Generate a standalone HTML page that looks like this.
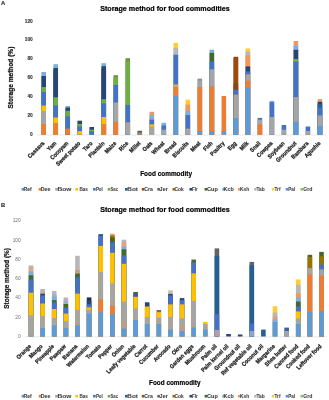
<!DOCTYPE html>
<html><head><meta charset="utf-8"><title>Storage method for food commodities</title>
<style>
html,body{margin:0;padding:0;background:#fff;}
body{width:329px;height:400px;overflow:hidden;}
svg{display:block;font-family:"Liberation Sans", sans-serif;}
.b{stroke:currentColor;stroke-width:0.25px;stroke-linejoin:round;}
</style></head>
<body>
<svg width="329" height="400" viewBox="0 0 329 400">
<defs><filter id="bl" x="-2%" y="-2%" width="104%" height="104%"><feGaussianBlur stdDeviation="0.4"/></filter></defs>
<rect width="329" height="400" fill="#fff"/>
<g filter="url(#bl)">
<text x="0.9" y="5.10" font-weight="bold" font-size="5.8" fill="#222" stroke="#222" stroke-width="0.12">A</text>
<text x="100.2" y="11.45" font-weight="bold" font-size="7.4" fill="#000" stroke="#000" stroke-width="0.22" textLength="129.6" lengthAdjust="spacingAndGlyphs">Storage method for food commodities</text>
<g font-size="4.75" font-weight="bold" fill="#333" stroke="#333" stroke-width="0.12"><text x="32.70" y="136.16" text-anchor="end">0</text>
<text x="32.70" y="117.22" text-anchor="end">20</text>
<text x="32.70" y="98.28" text-anchor="end">40</text>
<text x="32.70" y="79.34" text-anchor="end">60</text>
<text x="32.70" y="60.40" text-anchor="end">80</text>
<text x="32.70" y="41.46" text-anchor="end">100</text>
<text x="32.70" y="22.52" text-anchor="end">120</text></g>
<text x="0" y="0" font-weight="bold" font-size="6.8" fill="#111" stroke="#111" stroke-width="0.22" text-anchor="middle" textLength="62.0" lengthAdjust="spacingAndGlyphs" transform="translate(12.60 77.60) rotate(-90)">Storage method (%)</text>
<line x1="37.70" x2="325.94" y1="135.00" y2="135.00" stroke="#d9d9d9" stroke-width="0.6"/>
<rect x="41.40" y="72.00" width="4.60" height="62.70" fill="#7CAFDD"/>
<rect x="41.40" y="76.00" width="4.60" height="58.70" fill="#264478"/>
<rect x="41.40" y="87.00" width="4.60" height="47.70" fill="#70AD47"/>
<rect x="41.40" y="92.00" width="4.60" height="42.70" fill="#4472C4"/>
<rect x="41.40" y="105.50" width="4.60" height="29.20" fill="#FFC000"/>
<rect x="41.40" y="111.00" width="4.60" height="23.70" fill="#A5A5A5"/>
<rect x="41.40" y="124.00" width="4.60" height="10.70" fill="#ED7D31"/>
<rect x="53.41" y="64.20" width="4.60" height="70.50" fill="#7CAFDD"/>
<rect x="53.41" y="68.00" width="4.60" height="66.70" fill="#2c4c5c"/>
<rect x="53.41" y="70.00" width="4.60" height="64.70" fill="#264478"/>
<rect x="53.41" y="97.30" width="4.60" height="37.40" fill="#70AD47"/>
<rect x="53.41" y="105.50" width="4.60" height="29.20" fill="#4472C4"/>
<rect x="53.41" y="117.50" width="4.60" height="17.20" fill="#FFC000"/>
<rect x="53.41" y="123.00" width="4.60" height="11.70" fill="#ED7D31"/>
<rect x="65.42" y="106.00" width="4.60" height="28.70" fill="#7CAFDD"/>
<rect x="65.42" y="107.60" width="4.60" height="27.10" fill="#264478"/>
<rect x="65.42" y="110.80" width="4.60" height="23.90" fill="#70AD47"/>
<rect x="65.42" y="116.30" width="4.60" height="18.40" fill="#4472C4"/>
<rect x="65.42" y="128.60" width="4.60" height="6.10" fill="#ED7D31"/>
<rect x="77.43" y="120.70" width="4.60" height="14.00" fill="#264478"/>
<rect x="77.43" y="123.90" width="4.60" height="10.80" fill="#70AD47"/>
<rect x="77.43" y="126.50" width="4.60" height="8.20" fill="#4472C4"/>
<rect x="77.43" y="131.20" width="4.60" height="3.50" fill="#FFC000"/>
<rect x="89.44" y="127.00" width="4.60" height="7.70" fill="#264478"/>
<rect x="89.44" y="129.70" width="4.60" height="5.00" fill="#70AD47"/>
<rect x="89.44" y="131.20" width="4.60" height="3.50" fill="#4472C4"/>
<rect x="101.45" y="63.20" width="4.60" height="71.50" fill="#7CAFDD"/>
<rect x="101.45" y="66.20" width="4.60" height="68.50" fill="#2a4a5e"/>
<rect x="101.45" y="69.20" width="4.60" height="65.50" fill="#264478"/>
<rect x="101.45" y="99.20" width="4.60" height="35.50" fill="#70AD47"/>
<rect x="101.45" y="103.40" width="4.60" height="31.30" fill="#4472C4"/>
<rect x="101.45" y="117.00" width="4.60" height="17.70" fill="#FFC000"/>
<rect x="101.45" y="124.00" width="4.60" height="10.70" fill="#ED7D31"/>
<rect x="113.46" y="75.20" width="4.60" height="59.50" fill="#6b9444"/>
<rect x="113.46" y="77.20" width="4.60" height="57.50" fill="#70AD47"/>
<rect x="113.46" y="85.00" width="4.60" height="49.70" fill="#4472C4"/>
<rect x="113.46" y="102.40" width="4.60" height="32.30" fill="#A5A5A5"/>
<rect x="113.46" y="121.80" width="4.60" height="12.90" fill="#ED7D31"/>
<rect x="125.47" y="58.20" width="4.60" height="76.50" fill="#6b9444"/>
<rect x="125.47" y="61.50" width="4.60" height="73.20" fill="#70AD47"/>
<rect x="125.47" y="105.00" width="4.60" height="29.70" fill="#4472C4"/>
<rect x="125.47" y="122.30" width="4.60" height="12.40" fill="#A5A5A5"/>
<rect x="137.48" y="130.80" width="4.60" height="3.90" fill="#5e544a"/>
<rect x="137.48" y="132.50" width="4.60" height="2.20" fill="#9a8d80"/>
<rect x="149.49" y="111.80" width="4.60" height="22.90" fill="#F1975A"/>
<rect x="149.49" y="115.00" width="4.60" height="19.70" fill="#7CAFDD"/>
<rect x="149.49" y="119.70" width="4.60" height="15.00" fill="#4472C4"/>
<rect x="149.49" y="124.40" width="4.60" height="10.30" fill="#FFC000"/>
<rect x="149.49" y="126.50" width="4.60" height="8.20" fill="#A5A5A5"/>
<rect x="161.50" y="122.80" width="4.60" height="11.90" fill="#7CAFDD"/>
<rect x="161.50" y="125.50" width="4.60" height="9.20" fill="#4472C4"/>
<rect x="161.50" y="129.70" width="4.60" height="5.00" fill="#A5A5A5"/>
<rect x="173.51" y="42.80" width="4.60" height="91.90" fill="#FFCD33"/>
<rect x="173.51" y="47.90" width="4.60" height="86.80" fill="#B7B7B7"/>
<rect x="173.51" y="53.80" width="4.60" height="80.90" fill="#7CAFDD"/>
<rect x="173.51" y="55.00" width="4.60" height="79.70" fill="#4472C4"/>
<rect x="173.51" y="84.30" width="4.60" height="50.40" fill="#c8b060"/>
<rect x="173.51" y="87.10" width="4.60" height="47.60" fill="#ED7D31"/>
<rect x="173.51" y="96.00" width="4.60" height="38.70" fill="#5B9BD5"/>
<rect x="185.52" y="99.70" width="4.60" height="35.00" fill="#FFCD33"/>
<rect x="185.52" y="104.50" width="4.60" height="30.20" fill="#F1975A"/>
<rect x="185.52" y="110.80" width="4.60" height="23.90" fill="#7CAFDD"/>
<rect x="185.52" y="115.00" width="4.60" height="19.70" fill="#4472C4"/>
<rect x="185.52" y="128.60" width="4.60" height="6.10" fill="#A5A5A5"/>
<rect x="197.53" y="78.60" width="4.60" height="56.10" fill="#8a94a0"/>
<rect x="197.53" y="80.70" width="4.60" height="54.00" fill="#A5A5A5"/>
<rect x="197.53" y="87.10" width="4.60" height="47.60" fill="#ED7D31"/>
<rect x="197.53" y="131.00" width="4.60" height="3.70" fill="#5B9BD5"/>
<rect x="209.54" y="49.70" width="4.60" height="85.00" fill="#7CAFDD"/>
<rect x="209.54" y="52.90" width="4.60" height="81.80" fill="#43682B"/>
<rect x="209.54" y="61.40" width="4.60" height="73.30" fill="#4472C4"/>
<rect x="209.54" y="69.30" width="4.60" height="65.40" fill="#A5A5A5"/>
<rect x="209.54" y="86.40" width="4.60" height="48.30" fill="#ED7D31"/>
<rect x="209.54" y="131.00" width="4.60" height="3.70" fill="#5B9BD5"/>
<rect x="221.55" y="96.00" width="4.60" height="38.70" fill="#ED7D31"/>
<rect x="221.55" y="131.00" width="4.60" height="3.70" fill="#5B9BD5"/>
<rect x="233.56" y="56.80" width="4.60" height="77.90" fill="#8a4010"/>
<rect x="233.56" y="58.00" width="4.60" height="76.70" fill="#9E480E"/>
<rect x="233.56" y="83.50" width="4.60" height="51.20" fill="#8a4512"/>
<rect x="233.56" y="89.80" width="4.60" height="44.90" fill="#4472C4"/>
<rect x="233.56" y="94.60" width="4.60" height="40.10" fill="#A5A5A5"/>
<rect x="233.56" y="118.10" width="4.60" height="16.60" fill="#5B9BD5"/>
<rect x="245.57" y="48.40" width="4.60" height="86.30" fill="#FFCD33"/>
<rect x="245.57" y="51.60" width="4.60" height="83.10" fill="#B7B7B7"/>
<rect x="245.57" y="55.30" width="4.60" height="79.40" fill="#F1975A"/>
<rect x="245.57" y="66.40" width="4.60" height="68.30" fill="#264478"/>
<rect x="245.57" y="71.40" width="4.60" height="63.30" fill="#4472C4"/>
<rect x="245.57" y="74.30" width="4.60" height="60.40" fill="#A5A5A5"/>
<rect x="245.57" y="80.70" width="4.60" height="54.00" fill="#ED7D31"/>
<rect x="245.57" y="87.90" width="4.60" height="46.80" fill="#5B9BD5"/>
<rect x="257.58" y="117.90" width="4.60" height="16.80" fill="#4472C4"/>
<rect x="257.58" y="119.70" width="4.60" height="15.00" fill="#A5A5A5"/>
<rect x="257.58" y="124.40" width="4.60" height="10.30" fill="#ED7D31"/>
<rect x="269.59" y="101.10" width="4.60" height="33.60" fill="#6d94d0"/>
<rect x="269.59" y="102.40" width="4.60" height="32.30" fill="#4472C4"/>
<rect x="269.59" y="117.00" width="4.60" height="17.70" fill="#A5A5A5"/>
<rect x="281.60" y="125.00" width="4.60" height="9.70" fill="#4472C4"/>
<rect x="281.60" y="129.70" width="4.60" height="5.00" fill="#A5A5A5"/>
<rect x="293.61" y="41.00" width="4.60" height="93.70" fill="#F1975A"/>
<rect x="293.61" y="45.40" width="4.60" height="89.30" fill="#7CAFDD"/>
<rect x="293.61" y="49.80" width="4.60" height="84.90" fill="#264478"/>
<rect x="293.61" y="59.00" width="4.60" height="75.70" fill="#70AD47"/>
<rect x="293.61" y="61.60" width="4.60" height="73.10" fill="#4472C4"/>
<rect x="293.61" y="97.10" width="4.60" height="37.60" fill="#A5A5A5"/>
<rect x="293.61" y="121.80" width="4.60" height="12.90" fill="#5B9BD5"/>
<rect x="305.62" y="126.50" width="4.60" height="8.20" fill="#4472C4"/>
<rect x="305.62" y="131.00" width="4.60" height="3.70" fill="#A5A5A5"/>
<rect x="317.63" y="99.20" width="4.60" height="35.50" fill="#F1975A"/>
<rect x="317.63" y="101.80" width="4.60" height="32.90" fill="#264478"/>
<rect x="317.63" y="103.90" width="4.60" height="30.80" fill="#255E91"/>
<rect x="317.63" y="107.60" width="4.60" height="27.10" fill="#4472C4"/>
<rect x="317.63" y="115.50" width="4.60" height="19.20" fill="#A5A5A5"/>
<rect x="317.63" y="126.00" width="4.60" height="8.70" fill="#5B9BD5"/>
<g font-size="5.9" font-weight="bold" fill="#1a1a1a" stroke="#1a1a1a" stroke-width="0.26"><text x="0" y="0" text-anchor="end" transform="translate(44.80 143.80) rotate(-45) scale(0.870 1)">Cassava</text>
<text x="0" y="0" text-anchor="end" transform="translate(56.81 143.80) rotate(-45) scale(0.870 1)">Yam</text>
<text x="0" y="0" text-anchor="end" transform="translate(68.82 143.80) rotate(-45) scale(0.870 1)">Cocoyam</text>
<text x="0" y="0" text-anchor="end" transform="translate(80.83 143.80) rotate(-45) scale(0.870 1)">Sweet potato</text>
<text x="0" y="0" text-anchor="end" transform="translate(92.84 143.80) rotate(-45) scale(0.870 1)">Taro</text>
<text x="0" y="0" text-anchor="end" transform="translate(104.85 143.80) rotate(-45) scale(0.870 1)">Plantain</text>
<text x="0" y="0" text-anchor="end" transform="translate(116.86 143.80) rotate(-45) scale(0.870 1)">Maize</text>
<text x="0" y="0" text-anchor="end" transform="translate(128.87 143.80) rotate(-45) scale(0.870 1)">Rice</text>
<text x="0" y="0" text-anchor="end" transform="translate(140.88 143.80) rotate(-45) scale(0.870 1)">Millet</text>
<text x="0" y="0" text-anchor="end" transform="translate(152.89 143.80) rotate(-45) scale(0.870 1)">Oats</text>
<text x="0" y="0" text-anchor="end" transform="translate(164.90 143.80) rotate(-45) scale(0.870 1)">Wheat</text>
<text x="0" y="0" text-anchor="end" transform="translate(176.91 143.80) rotate(-45) scale(0.870 1)">Bread</text>
<text x="0" y="0" text-anchor="end" transform="translate(188.92 143.80) rotate(-45) scale(0.870 1)">Biscuits</text>
<text x="0" y="0" text-anchor="end" transform="translate(200.93 143.80) rotate(-45) scale(0.870 1)">Meat</text>
<text x="0" y="0" text-anchor="end" transform="translate(212.94 143.80) rotate(-45) scale(0.870 1)">Fish</text>
<text x="0" y="0" text-anchor="end" transform="translate(224.95 143.80) rotate(-45) scale(0.870 1)">Poultry</text>
<text x="0" y="0" text-anchor="end" transform="translate(236.96 143.80) rotate(-45) scale(0.870 1)">Egg</text>
<text x="0" y="0" text-anchor="end" transform="translate(248.97 143.80) rotate(-45) scale(0.870 1)">Milk</text>
<text x="0" y="0" text-anchor="end" transform="translate(260.98 143.80) rotate(-45) scale(0.870 1)">Snail</text>
<text x="0" y="0" text-anchor="end" transform="translate(272.99 143.80) rotate(-45) scale(0.870 1)">Cowpea</text>
<text x="0" y="0" text-anchor="end" transform="translate(285.00 143.80) rotate(-45) scale(0.870 1)">Soybean</text>
<text x="0" y="0" text-anchor="end" transform="translate(297.01 143.80) rotate(-45) scale(0.870 1)">Groundnut</text>
<text x="0" y="0" text-anchor="end" transform="translate(309.02 143.80) rotate(-45) scale(0.870 1)">Bambara</text>
<text x="0" y="0" text-anchor="end" transform="translate(321.03 143.80) rotate(-45) scale(0.870 1)">Agushie</text></g>
<text x="140.20" y="176.10" font-weight="bold" font-size="6.6" fill="#000" stroke="#000" stroke-width="0.18" textLength="51.80" lengthAdjust="spacingAndGlyphs">Food commodity</text>
<g font-size="4.6" font-weight="bold" fill="#404040" stroke="#404040" stroke-width="0.06"><rect x="21.60" y="188.00" width="2.6" height="2.6" fill="#5B9BD5" stroke="none"/>
<text x="23.50" y="190.90" textLength="8.20" lengthAdjust="spacingAndGlyphs">Ref</text>
<rect x="38.70" y="188.00" width="2.6" height="2.6" fill="#ED7D31" stroke="none"/>
<text x="40.80" y="190.90" textLength="9.70" lengthAdjust="spacingAndGlyphs">Dee</text>
<rect x="55.20" y="188.00" width="2.6" height="2.6" fill="#A5A5A5" stroke="none"/>
<text x="57.40" y="190.90" textLength="13.90" lengthAdjust="spacingAndGlyphs">Bow</text>
<rect x="75.40" y="188.00" width="2.6" height="2.6" fill="#FFC000" stroke="none"/>
<text x="79.50" y="190.90" textLength="8.40" lengthAdjust="spacingAndGlyphs">Bas</text>
<rect x="93.10" y="188.00" width="2.6" height="2.6" fill="#4472C4" stroke="none"/>
<text x="95.90" y="190.90" textLength="6.90" lengthAdjust="spacingAndGlyphs">Pol</text>
<rect x="107.70" y="188.00" width="2.6" height="2.6" fill="#70AD47" stroke="none"/>
<text x="110.50" y="190.90" textLength="7.50" lengthAdjust="spacingAndGlyphs">Sac</text>
<rect x="125.00" y="188.00" width="2.6" height="2.6" fill="#255E91" stroke="none"/>
<text x="127.30" y="190.90" textLength="10.60" lengthAdjust="spacingAndGlyphs">Bot</text>
<rect x="141.80" y="188.00" width="2.6" height="2.6" fill="#9E480E" stroke="none"/>
<text x="144.30" y="190.90" textLength="8.50" lengthAdjust="spacingAndGlyphs">Cra</text>
<rect x="157.30" y="188.00" width="2.6" height="2.6" fill="#636363" stroke="none"/>
<text x="159.60" y="190.90" textLength="8.20" lengthAdjust="spacingAndGlyphs">Jer</text>
<rect x="172.50" y="188.00" width="2.6" height="2.6" fill="#997300" stroke="none"/>
<text x="174.60" y="190.90" textLength="9.10" lengthAdjust="spacingAndGlyphs">Cok</text>
<rect x="189.50" y="188.00" width="2.6" height="2.6" fill="#264478" stroke="none"/>
<text x="191.90" y="190.90" textLength="5.80" lengthAdjust="spacingAndGlyphs">Flr</text>
<rect x="204.60" y="188.00" width="2.6" height="2.6" fill="#43682B" stroke="none"/>
<text x="207.00" y="190.90" textLength="10.80" lengthAdjust="spacingAndGlyphs">Cup</text>
<rect x="222.30" y="188.00" width="2.6" height="2.6" fill="#7CAFDD" stroke="none"/>
<text x="223.60" y="190.90" textLength="10.10" lengthAdjust="spacingAndGlyphs">Kcb</text>
<rect x="238.00" y="188.00" width="2.6" height="2.6" fill="#F1975A" stroke="none"/>
<text x="240.00" y="190.90" textLength="9.20" lengthAdjust="spacingAndGlyphs">Ksh</text>
<rect x="254.10" y="188.00" width="2.6" height="2.6" fill="#B7B7B7" stroke="none"/>
<text x="256.50" y="190.90" textLength="8.20" lengthAdjust="spacingAndGlyphs">Tab</text>
<rect x="271.80" y="188.00" width="2.6" height="2.6" fill="#FFCD33" stroke="none"/>
<text x="274.50" y="190.90" textLength="6.00" lengthAdjust="spacingAndGlyphs">Trf</text>
<rect x="285.70" y="188.00" width="2.6" height="2.6" fill="#698ED0" stroke="none"/>
<text x="288.20" y="190.90" textLength="6.90" lengthAdjust="spacingAndGlyphs">Pal</text>
<rect x="300.50" y="188.00" width="2.6" height="2.6" fill="#8CC168" stroke="none"/>
<text x="303.30" y="190.90" textLength="9.10" lengthAdjust="spacingAndGlyphs">Grd</text></g>
<text x="0.9" y="206.70" font-weight="bold" font-size="5.8" fill="#222" stroke="#222" stroke-width="0.12">B</text>
<text x="100.2" y="211.65" font-weight="bold" font-size="7.4" fill="#000" stroke="#000" stroke-width="0.22" textLength="129.6" lengthAdjust="spacingAndGlyphs">Storage method for food commodities</text>
<g font-size="4.75" fill="#707070"><text x="20.60" y="337.96" text-anchor="end">0</text>
<text x="20.60" y="318.71" text-anchor="end">20</text>
<text x="20.60" y="299.46" text-anchor="end">40</text>
<text x="20.60" y="280.21" text-anchor="end">60</text>
<text x="20.60" y="260.96" text-anchor="end">80</text>
<text x="20.60" y="241.71" text-anchor="end">100</text>
<text x="20.60" y="222.46" text-anchor="end">120</text></g>
<text x="0" y="0" font-weight="bold" font-size="6.8" fill="#111" stroke="#111" stroke-width="0.22" text-anchor="middle" textLength="60.5" lengthAdjust="spacingAndGlyphs" transform="translate(8.60 278.40) rotate(-90)">Storage method (%)</text>
<line x1="25.19" x2="327.31" y1="336.80" y2="336.80" stroke="#d9d9d9" stroke-width="0.6"/>
<rect x="28.70" y="265.40" width="4.60" height="71.10" fill="#B7B7B7"/>
<rect x="28.70" y="267.00" width="4.60" height="69.50" fill="#d8a890"/>
<rect x="28.70" y="271.50" width="4.60" height="65.00" fill="#7CAFDD"/>
<rect x="28.70" y="275.30" width="4.60" height="61.20" fill="#43682B"/>
<rect x="28.70" y="279.50" width="4.60" height="57.00" fill="#4472C4"/>
<rect x="28.70" y="292.70" width="4.60" height="43.80" fill="#FFC000"/>
<rect x="28.70" y="315.40" width="4.60" height="21.10" fill="#A5A5A5"/>
<rect x="28.70" y="334.80" width="4.60" height="1.70" fill="#8ea4b8"/>
<rect x="40.32" y="289.00" width="4.60" height="47.50" fill="#B7B7B7"/>
<rect x="40.32" y="291.00" width="4.60" height="45.50" fill="#c8aca4"/>
<rect x="40.32" y="293.70" width="4.60" height="42.80" fill="#264478"/>
<rect x="40.32" y="295.40" width="4.60" height="41.10" fill="#4472C4"/>
<rect x="40.32" y="303.50" width="4.60" height="33.00" fill="#FFC000"/>
<rect x="40.32" y="316.00" width="4.60" height="20.50" fill="#A5A5A5"/>
<rect x="40.32" y="328.00" width="4.60" height="8.50" fill="#5B9BD5"/>
<rect x="51.94" y="290.90" width="4.60" height="45.60" fill="#B7B7B7"/>
<rect x="51.94" y="294.50" width="4.60" height="42.00" fill="#a8acc8"/>
<rect x="51.94" y="296.30" width="4.60" height="40.20" fill="#7CAFDD"/>
<rect x="51.94" y="300.20" width="4.60" height="36.30" fill="#43682B"/>
<rect x="51.94" y="302.40" width="4.60" height="34.10" fill="#4472C4"/>
<rect x="51.94" y="309.00" width="4.60" height="27.50" fill="#FFC000"/>
<rect x="51.94" y="318.00" width="4.60" height="18.50" fill="#A5A5A5"/>
<rect x="51.94" y="325.50" width="4.60" height="11.00" fill="#5B9BD5"/>
<rect x="63.56" y="297.50" width="4.60" height="39.00" fill="#B7B7B7"/>
<rect x="63.56" y="300.50" width="4.60" height="36.00" fill="#a8acc8"/>
<rect x="63.56" y="304.00" width="4.60" height="32.50" fill="#43682B"/>
<rect x="63.56" y="307.60" width="4.60" height="28.90" fill="#4472C4"/>
<rect x="63.56" y="313.60" width="4.60" height="22.90" fill="#FFC000"/>
<rect x="63.56" y="321.10" width="4.60" height="15.40" fill="#A5A5A5"/>
<rect x="63.56" y="328.00" width="4.60" height="8.50" fill="#5B9BD5"/>
<rect x="75.18" y="255.80" width="4.60" height="80.70" fill="#B7B7B7"/>
<rect x="75.18" y="270.00" width="4.60" height="66.50" fill="#c8a088"/>
<rect x="75.18" y="273.60" width="4.60" height="62.90" fill="#43682B"/>
<rect x="75.18" y="277.30" width="4.60" height="59.20" fill="#4472C4"/>
<rect x="75.18" y="293.60" width="4.60" height="42.90" fill="#FFC000"/>
<rect x="75.18" y="309.90" width="4.60" height="26.60" fill="#A5A5A5"/>
<rect x="75.18" y="322.60" width="4.60" height="13.90" fill="#b89a90"/>
<rect x="75.18" y="325.50" width="4.60" height="11.00" fill="#5B9BD5"/>
<rect x="86.80" y="297.40" width="4.60" height="39.10" fill="#1e3050"/>
<rect x="86.80" y="300.50" width="4.60" height="36.00" fill="#264478"/>
<rect x="86.80" y="304.30" width="4.60" height="32.20" fill="#4472C4"/>
<rect x="86.80" y="307.40" width="4.60" height="29.10" fill="#FFC000"/>
<rect x="86.80" y="309.90" width="4.60" height="26.60" fill="#A5A5A5"/>
<rect x="86.80" y="313.60" width="4.60" height="22.90" fill="#5B9BD5"/>
<rect x="98.42" y="234.20" width="4.60" height="102.30" fill="#264478"/>
<rect x="98.42" y="235.60" width="4.60" height="100.90" fill="#4472C4"/>
<rect x="98.42" y="245.90" width="4.60" height="90.60" fill="#FFC000"/>
<rect x="98.42" y="272.00" width="4.60" height="64.50" fill="#A5A5A5"/>
<rect x="98.42" y="299.50" width="4.60" height="37.00" fill="#ED7D31"/>
<rect x="98.42" y="312.10" width="4.60" height="24.40" fill="#5B9BD5"/>
<rect x="110.04" y="233.80" width="4.60" height="102.70" fill="#F1975A"/>
<rect x="110.04" y="235.60" width="4.60" height="100.90" fill="#997300"/>
<rect x="110.04" y="237.60" width="4.60" height="98.90" fill="#43682B"/>
<rect x="110.04" y="242.40" width="4.60" height="94.10" fill="#4472C4"/>
<rect x="110.04" y="252.80" width="4.60" height="83.70" fill="#FFC000"/>
<rect x="110.04" y="283.40" width="4.60" height="53.10" fill="#A5A5A5"/>
<rect x="110.04" y="305.80" width="4.60" height="30.70" fill="#ED7D31"/>
<rect x="110.04" y="314.20" width="4.60" height="22.30" fill="#5B9BD5"/>
<rect x="121.66" y="239.70" width="4.60" height="96.80" fill="#B7B7B7"/>
<rect x="121.66" y="242.00" width="4.60" height="94.50" fill="#e4a384"/>
<rect x="121.66" y="246.60" width="4.60" height="89.90" fill="#7CAFDD"/>
<rect x="121.66" y="249.30" width="4.60" height="87.20" fill="#43682B"/>
<rect x="121.66" y="255.50" width="4.60" height="81.00" fill="#4472C4"/>
<rect x="121.66" y="263.80" width="4.60" height="72.70" fill="#FFC000"/>
<rect x="121.66" y="301.60" width="4.60" height="34.90" fill="#A5A5A5"/>
<rect x="121.66" y="322.00" width="4.60" height="14.50" fill="#c09a8c"/>
<rect x="121.66" y="328.50" width="4.60" height="8.00" fill="#5B9BD5"/>
<rect x="133.28" y="292.00" width="4.60" height="44.50" fill="#43682B"/>
<rect x="133.28" y="293.60" width="4.60" height="42.90" fill="#3a5aa8"/>
<rect x="133.28" y="296.80" width="4.60" height="39.70" fill="#FFC000"/>
<rect x="133.28" y="308.40" width="4.60" height="28.10" fill="#A5A5A5"/>
<rect x="133.28" y="320.00" width="4.60" height="16.50" fill="#5B9BD5"/>
<rect x="144.90" y="302.30" width="4.60" height="34.20" fill="#264478"/>
<rect x="144.90" y="306.50" width="4.60" height="30.00" fill="#FFC000"/>
<rect x="144.90" y="317.00" width="4.60" height="19.50" fill="#A5A5A5"/>
<rect x="144.90" y="324.00" width="4.60" height="12.50" fill="#5B9BD5"/>
<rect x="156.52" y="310.00" width="4.60" height="26.50" fill="#7a6a6a"/>
<rect x="156.52" y="312.10" width="4.60" height="24.40" fill="#FFC000"/>
<rect x="156.52" y="317.70" width="4.60" height="18.80" fill="#A5A5A5"/>
<rect x="156.52" y="324.00" width="4.60" height="12.50" fill="#5B9BD5"/>
<rect x="168.14" y="290.40" width="4.60" height="46.10" fill="#c8c0a8"/>
<rect x="168.14" y="293.90" width="4.60" height="42.60" fill="#264478"/>
<rect x="168.14" y="295.30" width="4.60" height="41.20" fill="#4472C4"/>
<rect x="168.14" y="304.40" width="4.60" height="32.10" fill="#FFC000"/>
<rect x="168.14" y="317.00" width="4.60" height="19.50" fill="#A5A5A5"/>
<rect x="168.14" y="329.60" width="4.60" height="6.90" fill="#5B9BD5"/>
<rect x="179.76" y="298.10" width="4.60" height="38.40" fill="#264478"/>
<rect x="179.76" y="300.20" width="4.60" height="36.30" fill="#4472C4"/>
<rect x="179.76" y="304.40" width="4.60" height="32.10" fill="#FFC000"/>
<rect x="179.76" y="318.40" width="4.60" height="18.10" fill="#A5A5A5"/>
<rect x="179.76" y="326.80" width="4.60" height="9.70" fill="#c4988a"/>
<rect x="179.76" y="331.00" width="4.60" height="5.50" fill="#5B9BD5"/>
<rect x="191.38" y="259.60" width="4.60" height="76.90" fill="#43682B"/>
<rect x="191.38" y="262.40" width="4.60" height="74.10" fill="#4472C4"/>
<rect x="191.38" y="273.40" width="4.60" height="63.10" fill="#FFC000"/>
<rect x="191.38" y="300.90" width="4.60" height="35.60" fill="#A5A5A5"/>
<rect x="191.38" y="327.50" width="4.60" height="9.00" fill="#5B9BD5"/>
<rect x="203.00" y="321.90" width="4.60" height="14.60" fill="#FFC000"/>
<rect x="203.00" y="324.00" width="4.60" height="12.50" fill="#A5A5A5"/>
<rect x="203.00" y="329.60" width="4.60" height="6.90" fill="#5B9BD5"/>
<rect x="214.62" y="248.40" width="4.60" height="88.10" fill="#636363"/>
<rect x="214.62" y="255.80" width="4.60" height="80.70" fill="#255E91"/>
<rect x="214.62" y="314.20" width="4.60" height="22.30" fill="#4472C4"/>
<rect x="214.62" y="330.00" width="4.60" height="6.50" fill="#b0a0a0"/>
<rect x="226.24" y="334.00" width="4.60" height="2.50" fill="#264478"/>
<rect x="237.86" y="334.50" width="4.60" height="2.00" fill="#3a3f50"/>
<rect x="249.48" y="261.90" width="4.60" height="74.60" fill="#636363"/>
<rect x="249.48" y="265.30" width="4.60" height="71.20" fill="#255E91"/>
<rect x="249.48" y="323.50" width="4.60" height="13.00" fill="#4472C4"/>
<rect x="249.48" y="331.00" width="4.60" height="5.50" fill="#8fa8c0"/>
<rect x="261.10" y="329.60" width="4.60" height="6.90" fill="#255E91"/>
<rect x="272.72" y="306.20" width="4.60" height="30.30" fill="#FFCD33"/>
<rect x="272.72" y="312.60" width="4.60" height="23.90" fill="#B7B7B7"/>
<rect x="272.72" y="316.50" width="4.60" height="20.00" fill="#d8a088"/>
<rect x="272.72" y="319.50" width="4.60" height="17.00" fill="#7CAFDD"/>
<rect x="272.72" y="322.00" width="4.60" height="14.50" fill="#5B9BD5"/>
<rect x="284.34" y="327.60" width="4.60" height="8.90" fill="#3a5ea8"/>
<rect x="284.34" y="331.00" width="4.60" height="5.50" fill="#A5A5A5"/>
<rect x="295.96" y="279.40" width="4.60" height="57.10" fill="#FFCD33"/>
<rect x="295.96" y="284.80" width="4.60" height="51.70" fill="#B7B7B7"/>
<rect x="295.96" y="293.20" width="4.60" height="43.30" fill="#F1975A"/>
<rect x="295.96" y="297.40" width="4.60" height="39.10" fill="#7CAFDD"/>
<rect x="295.96" y="301.60" width="4.60" height="34.90" fill="#43682B"/>
<rect x="295.96" y="306.50" width="4.60" height="30.00" fill="#4472C4"/>
<rect x="295.96" y="311.40" width="4.60" height="25.10" fill="#FFC000"/>
<rect x="295.96" y="318.40" width="4.60" height="18.10" fill="#A5A5A5"/>
<rect x="295.96" y="324.00" width="4.60" height="12.50" fill="#5B9BD5"/>
<rect x="307.58" y="254.80" width="4.60" height="81.70" fill="#43682B"/>
<rect x="307.58" y="256.90" width="4.60" height="79.60" fill="#997300"/>
<rect x="307.58" y="268.10" width="4.60" height="68.40" fill="#A5A5A5"/>
<rect x="307.58" y="274.40" width="4.60" height="62.10" fill="#ED7D31"/>
<rect x="307.58" y="311.80" width="4.60" height="24.70" fill="#5B9BD5"/>
<rect x="319.20" y="251.90" width="4.60" height="84.60" fill="#43682B"/>
<rect x="319.20" y="256.30" width="4.60" height="80.20" fill="#997300"/>
<rect x="319.20" y="264.40" width="4.60" height="72.10" fill="#4472C4"/>
<rect x="319.20" y="269.40" width="4.60" height="67.10" fill="#A5A5A5"/>
<rect x="319.20" y="275.60" width="4.60" height="60.90" fill="#ED7D31"/>
<rect x="319.20" y="311.10" width="4.60" height="25.40" fill="#5B9BD5"/>
<g font-size="5.9" font-weight="bold" fill="#1a1a1a" stroke="#1a1a1a" stroke-width="0.26"><text x="0" y="0" text-anchor="end" transform="translate(31.40 346.80) rotate(-45) scale(0.870 1)">Orange</text>
<text x="0" y="0" text-anchor="end" transform="translate(43.02 346.80) rotate(-45) scale(0.870 1)">Mango</text>
<text x="0" y="0" text-anchor="end" transform="translate(54.64 346.80) rotate(-45) scale(0.870 1)">Pineapple</text>
<text x="0" y="0" text-anchor="end" transform="translate(66.26 346.80) rotate(-45) scale(0.870 1)">Pawpaw</text>
<text x="0" y="0" text-anchor="end" transform="translate(77.88 346.80) rotate(-45) scale(0.870 1)">Banana</text>
<text x="0" y="0" text-anchor="end" transform="translate(89.50 346.80) rotate(-45) scale(0.870 1)">Watermelon</text>
<text x="0" y="0" text-anchor="end" transform="translate(101.12 346.80) rotate(-45) scale(0.870 1)">Tomato</text>
<text x="0" y="0" text-anchor="end" transform="translate(112.74 346.80) rotate(-45) scale(0.870 1)">Pepper</text>
<text x="0" y="0" text-anchor="end" transform="translate(124.36 346.80) rotate(-45) scale(0.870 1)">Onion</text>
<text x="0" y="0" text-anchor="end" transform="translate(135.98 346.80) rotate(-45) scale(0.870 1)">Leafy vegetable</text>
<text x="0" y="0" text-anchor="end" transform="translate(147.60 346.80) rotate(-45) scale(0.870 1)">Carrot</text>
<text x="0" y="0" text-anchor="end" transform="translate(159.22 346.80) rotate(-45) scale(0.870 1)">Cucumber</text>
<text x="0" y="0" text-anchor="end" transform="translate(170.84 346.80) rotate(-45) scale(0.870 1)">Avocado</text>
<text x="0" y="0" text-anchor="end" transform="translate(182.46 346.80) rotate(-45) scale(0.870 1)">Okro</text>
<text x="0" y="0" text-anchor="end" transform="translate(194.08 346.80) rotate(-45) scale(0.870 1)">Garden eggs</text>
<text x="0" y="0" text-anchor="end" transform="translate(205.70 346.80) rotate(-45) scale(0.870 1)">Mushroom</text>
<text x="0" y="0" text-anchor="end" transform="translate(217.32 346.80) rotate(-45) scale(0.870 1)">Palm oil</text>
<text x="0" y="0" text-anchor="end" transform="translate(228.94 346.80) rotate(-45) scale(0.870 1)">Palm kernel oil</text>
<text x="0" y="0" text-anchor="end" transform="translate(240.56 346.80) rotate(-45) scale(0.870 1)">Groundnut oil</text>
<text x="0" y="0" text-anchor="end" transform="translate(252.18 346.80) rotate(-45) scale(0.870 1)">Ref vegetable oil</text>
<text x="0" y="0" text-anchor="end" transform="translate(263.80 346.80) rotate(-45) scale(0.870 1)">Coconut oil</text>
<text x="0" y="0" text-anchor="end" transform="translate(275.42 346.80) rotate(-45) scale(0.870 1)">Margarine</text>
<text x="0" y="0" text-anchor="end" transform="translate(287.04 346.80) rotate(-45) scale(0.870 1)">Shea butter</text>
<text x="0" y="0" text-anchor="end" transform="translate(298.66 346.80) rotate(-45) scale(0.870 1)">Canned food</text>
<text x="0" y="0" text-anchor="end" transform="translate(310.28 346.80) rotate(-45) scale(0.870 1)">Cooked food</text>
<text x="0" y="0" text-anchor="end" transform="translate(321.90 346.80) rotate(-45) scale(0.870 1)">Leftover food</text></g>
<text x="149.00" y="384.90" font-weight="bold" font-size="6.6" fill="#000" stroke="#000" stroke-width="0.18" textLength="51.50" lengthAdjust="spacingAndGlyphs">Food commodity</text>
<g font-size="4.6" font-weight="bold" fill="#404040" stroke="#404040" stroke-width="0.06"><rect x="21.60" y="394.90" width="2.6" height="2.6" fill="#5B9BD5" stroke="none"/>
<text x="23.50" y="397.80" textLength="8.20" lengthAdjust="spacingAndGlyphs">Ref</text>
<rect x="38.70" y="394.90" width="2.6" height="2.6" fill="#ED7D31" stroke="none"/>
<text x="40.80" y="397.80" textLength="9.70" lengthAdjust="spacingAndGlyphs">Dee</text>
<rect x="55.20" y="394.90" width="2.6" height="2.6" fill="#A5A5A5" stroke="none"/>
<text x="57.40" y="397.80" textLength="13.90" lengthAdjust="spacingAndGlyphs">Bow</text>
<rect x="75.40" y="394.90" width="2.6" height="2.6" fill="#FFC000" stroke="none"/>
<text x="79.50" y="397.80" textLength="8.40" lengthAdjust="spacingAndGlyphs">Bas</text>
<rect x="93.10" y="394.90" width="2.6" height="2.6" fill="#4472C4" stroke="none"/>
<text x="95.90" y="397.80" textLength="6.90" lengthAdjust="spacingAndGlyphs">Pol</text>
<rect x="107.70" y="394.90" width="2.6" height="2.6" fill="#70AD47" stroke="none"/>
<text x="110.50" y="397.80" textLength="7.50" lengthAdjust="spacingAndGlyphs">Sac</text>
<rect x="125.00" y="394.90" width="2.6" height="2.6" fill="#255E91" stroke="none"/>
<text x="127.30" y="397.80" textLength="10.60" lengthAdjust="spacingAndGlyphs">Bot</text>
<rect x="141.80" y="394.90" width="2.6" height="2.6" fill="#9E480E" stroke="none"/>
<text x="144.30" y="397.80" textLength="8.50" lengthAdjust="spacingAndGlyphs">Cra</text>
<rect x="157.30" y="394.90" width="2.6" height="2.6" fill="#636363" stroke="none"/>
<text x="159.60" y="397.80" textLength="8.20" lengthAdjust="spacingAndGlyphs">Jer</text>
<rect x="172.50" y="394.90" width="2.6" height="2.6" fill="#997300" stroke="none"/>
<text x="174.60" y="397.80" textLength="9.10" lengthAdjust="spacingAndGlyphs">Cok</text>
<rect x="189.50" y="394.90" width="2.6" height="2.6" fill="#264478" stroke="none"/>
<text x="191.90" y="397.80" textLength="5.80" lengthAdjust="spacingAndGlyphs">Flr</text>
<rect x="204.60" y="394.90" width="2.6" height="2.6" fill="#43682B" stroke="none"/>
<text x="207.00" y="397.80" textLength="10.80" lengthAdjust="spacingAndGlyphs">Cup</text>
<rect x="222.30" y="394.90" width="2.6" height="2.6" fill="#7CAFDD" stroke="none"/>
<text x="223.60" y="397.80" textLength="10.10" lengthAdjust="spacingAndGlyphs">Kcb</text>
<rect x="238.00" y="394.90" width="2.6" height="2.6" fill="#F1975A" stroke="none"/>
<text x="240.00" y="397.80" textLength="9.20" lengthAdjust="spacingAndGlyphs">Ksh</text>
<rect x="254.10" y="394.90" width="2.6" height="2.6" fill="#B7B7B7" stroke="none"/>
<text x="256.50" y="397.80" textLength="8.20" lengthAdjust="spacingAndGlyphs">Tab</text>
<rect x="271.80" y="394.90" width="2.6" height="2.6" fill="#FFCD33" stroke="none"/>
<text x="274.50" y="397.80" textLength="6.00" lengthAdjust="spacingAndGlyphs">Trf</text>
<rect x="285.70" y="394.90" width="2.6" height="2.6" fill="#698ED0" stroke="none"/>
<text x="288.20" y="397.80" textLength="6.90" lengthAdjust="spacingAndGlyphs">Pal</text>
<rect x="300.50" y="394.90" width="2.6" height="2.6" fill="#8CC168" stroke="none"/>
<text x="303.30" y="397.80" textLength="9.10" lengthAdjust="spacingAndGlyphs">Grd</text></g>
</g>
</svg>
</body></html>
